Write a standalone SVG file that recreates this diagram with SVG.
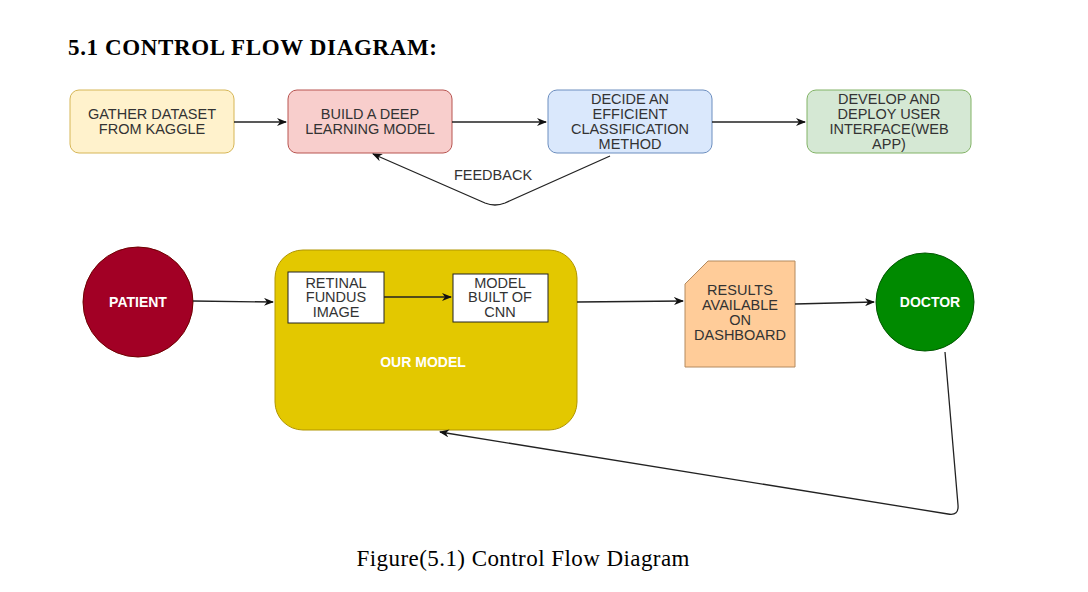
<svg xmlns="http://www.w3.org/2000/svg" width="1088" height="592" viewBox="0 0 1088 592">
<style>
.t{font-family:"Liberation Sans",Arial,sans-serif;font-size:14.5px;fill:#333;text-anchor:middle}
.w{font-family:"Liberation Sans",Arial,sans-serif;font-size:14px;fill:#fff;font-weight:bold;text-anchor:middle}
.c{fill:none;stroke:#222;stroke-width:1.3}
</style>
<defs><marker id="a" markerWidth="10" markerHeight="8" refX="9" refY="4" orient="auto" markerUnits="userSpaceOnUse"><path d="M0,0 L10,4 L0,8 L3,4 Z" fill="#111"/></marker></defs>
<rect width="1088" height="592" fill="#fff"/>
<text x="68" y="55" font-family="Liberation Serif,serif" font-size="23" font-weight="bold" fill="#000" textLength="369">5.1 CONTROL FLOW DIAGRAM:</text>
<g id="gather"><rect x="70" y="90" width="164" height="63" rx="9" fill="#fff2cc" stroke="#d6b656"/><text class="t" x="152" y="119">GATHER DATASET</text><text class="t" x="152" y="134">FROM KAGGLE</text></g>
<g id="build"><rect x="288" y="90" width="164" height="63" rx="9" fill="#f8cecc" stroke="#b85450"/><text class="t" x="370" y="119">BUILD A DEEP</text><text class="t" x="370" y="134">LEARNING MODEL</text></g>
<g id="decide"><rect x="548" y="90" width="164" height="63" rx="9" fill="#dae8fc" stroke="#6c8ebf"/><text class="t" x="630" y="104">DECIDE AN</text><text class="t" x="630" y="119">EFFICIENT</text><text class="t" x="630" y="134">CLASSIFICATION</text><text class="t" x="630" y="149">METHOD</text></g>
<g id="develop"><rect x="807" y="90" width="164" height="63" rx="9" fill="#d5e8d4" stroke="#82b366"/><text class="t" x="889" y="104">DEVELOP AND</text><text class="t" x="889" y="119">DEPLOY USER</text><text class="t" x="889" y="134">INTERFACE(WEB</text><text class="t" x="889" y="149">APP)</text></g>
<g id="patient"><circle cx="138" cy="302" r="55" fill="#a20025" stroke="#6f0000"/><text class="w" x="138" y="307">PATIENT</text></g>
<g id="ourmodel"><rect x="275" y="250" width="302" height="180" rx="28" fill="#e3c800" stroke="#b09500"/><text class="w" x="423" y="367">OUR MODEL</text></g>
<g id="retinal"><rect x="288" y="272" width="96" height="51" fill="#fff" stroke="#222"/><text class="t" x="336" y="288">RETINAL</text><text class="t" x="336" y="302">FUNDUS</text><text class="t" x="336" y="317">IMAGE</text></g>
<g id="cnn"><rect x="453" y="274" width="95" height="48" fill="#fff" stroke="#222"/><text class="t" x="500" y="288">MODEL</text><text class="t" x="500" y="302">BUILT OF</text><text class="t" x="500" y="317">CNN</text></g>
<g id="results"><path d="M708,261 L795,261 L795,367 L685,367 L685,284 Z" fill="#ffcc99" stroke="#b48a5f"/><text class="t" x="740" y="295">RESULTS</text><text class="t" x="740" y="310">AVAILABLE</text><text class="t" x="740" y="325">ON</text><text class="t" x="740" y="340">DASHBOARD</text></g>
<g id="doctor"><circle cx="925" cy="302" r="49" fill="#008a00" stroke="#005700"/><text class="w" x="930" y="307">DOCTOR</text></g>
<g id="connectors">
<path class="c" d="M234,122 L286,122" marker-end="url(#a)"/>
<path class="c" d="M452,122 L546,122" marker-end="url(#a)"/>
<path class="c" d="M712,122 L805,122" marker-end="url(#a)"/>
<path class="c" d="M610,156 L505,203 Q495,207 485,203 L373,154" marker-end="url(#a)"/>
<text class="t" x="493" y="180">FEEDBACK</text>
<path class="c" d="M193,301 L273,302" marker-end="url(#a)"/>
<path class="c" d="M384,297 L451,297" marker-end="url(#a)"/>
<path class="c" d="M577,302 L683,301" marker-end="url(#a)"/>
<path class="c" d="M795,304 L874,302" marker-end="url(#a)"/>
<path class="c" d="M945,352 L958,505 Q959,516 948,514 L440,432" marker-end="url(#a)"/>
</g>
<text x="523" y="566" font-family="Liberation Serif,serif" font-size="23" fill="#000" text-anchor="middle" textLength="333">Figure(5.1) Control Flow Diagram</text>
</svg>
